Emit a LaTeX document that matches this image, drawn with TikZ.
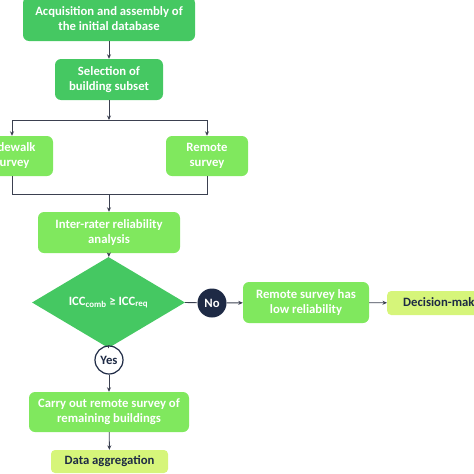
\documentclass[tikz,border=0pt]{standalone}
\usepackage{fontspec}
\setmainfont{Carlito}
\usetikzlibrary{shapes.geometric,arrows.meta}
\definecolor{dgreen}{HTML}{45C862}
\definecolor{lgreen}{HTML}{80E85E}
\definecolor{ygreen}{HTML}{D6F57A}
\definecolor{navy}{HTML}{1E2A45}
\definecolor{linec}{HTML}{3B4050}
\begin{document}
\begin{tikzpicture}[x=1pt,y=-1pt,
  box/.style={rectangle,rounded corners=6pt,draw=none,text=white,font=\fontsize{12.7}{15}\selectfont\bfseries,align=center,inner sep=0pt},
  darkbox/.style={box,fill=dgreen},
  lightbox/.style={box,fill=lgreen},
  endbox/.style={rectangle,rounded corners=4pt,fill=ygreen,text=navy,font=\fontsize{12.7}{15}\selectfont\bfseries,inner sep=0pt},
  arr/.style={draw=linec,line width=0.9pt,-{Stealth[length=4.5pt,width=4pt]}},
  ln/.style={draw=linec,line width=0.9pt}]
\useasboundingbox (0,0) rectangle (474,474);
\clip (0,0) rectangle (474,474);
\node[darkbox,minimum width=172pt,minimum height=44pt] (acq) at (109,19) {Acquisition and assembly of\\the initial database};
\node[darkbox,minimum width=108pt,minimum height=41pt] (sel) at (109,79.5) {Selection of\\building subset};
\node[lightbox,minimum width=82pt,minimum height=40pt] (side) at (12,156) {Sidewalk\\survey};
\node[lightbox,minimum width=82pt,minimum height=40pt] (rem) at (207,156) {Remote\\survey};
\node[lightbox,minimum width=142pt,minimum height=41pt] (irr) at (109,232.5) {Inter-rater reliability\\analysis};
\node[diamond,fill=dgreen,minimum width=153pt,minimum height=61pt,inner sep=0pt,text=white,font=\fontsize{12.7}{15}\selectfont\bfseries] (icc) at (108.5,302.5) {ICC\textsubscript{comb} ≥ ICC\textsubscript{req}};
\node[circle,fill=navy,text=white,minimum size=29pt,inner sep=0pt,font=\fontsize{12.7}{15}\selectfont\bfseries] (no) at (212,303) {No};
\node[lightbox,minimum width=126pt,minimum height=41pt] (low) at (306,302.5) {Remote survey has\\low reliability};
\node[endbox,anchor=west,minimum height=24pt,inner xsep=16pt] (dec) at (387,303) {Decision-making};
\node[circle,fill=white,draw=navy,line width=1.2pt,text=navy,minimum size=28pt,inner sep=0pt,font=\fontsize{12.7}{15}\selectfont\bfseries] (yes) at (109,360) {Yes};
\node[lightbox,minimum width=160pt,minimum height=40pt] (carry) at (109,412) {Carry out remote survey of\\remaining buildings};
\node[endbox,minimum width=117pt,minimum height=23pt] (data) at (109.5,461.5) {Data aggregation};
\coordinate (split) at (109,120);
\coordinate (join) at (109,194);
\draw[arr] (acq) -- (sel);
\draw[arr] (sel) -- (split);
\draw[ln] (side.north |- split) -- (rem.north |- split);
\draw[arr] (side.north |- split) -- (side.north);
\draw[arr] (rem.north |- split) -- (rem.north);
\draw[ln] (side.south) -- (side.south |- join) -- (rem.south |- join) -- (rem.south);
\draw[arr] (join) -- (irr);
\draw[arr] (irr) -- (icc);
\draw[ln] (icc.east) -- (no);
\draw[arr] (no) -- (low);
\draw[arr] (low) -- (dec);
\draw[ln] (icc.south) -- (yes);
\draw[arr] (yes) -- (carry);
\draw[arr] (carry) -- (data);
\end{tikzpicture}
\end{document}
